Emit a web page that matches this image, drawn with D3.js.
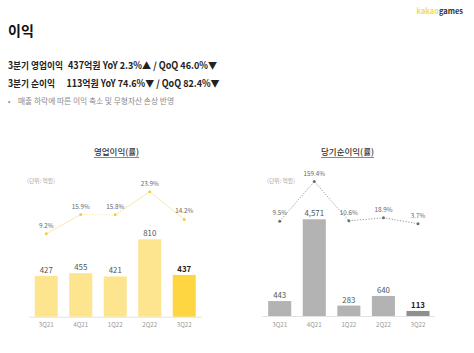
<!DOCTYPE html>
<html><head><meta charset="utf-8">
<script src="https://cdn.jsdelivr.net/npm/d3@7"></script>
<style>
html,body{margin:0;padding:0;background:#fff;}
svg text{font-family:"Noto Sans CJK KR","Noto Sans",sans-serif;}
</style></head>
<body>
<svg id="c" width="474" height="353"></svg>
<script>
const categories = ["3Q21","4Q21","1Q22","2Q22","3Q22"];
const opProfit = [427,455,421,810,437];
const opMargin = [9.2,15.9,15.8,23.9,14.2];
const netProfit = [443,4571,283,640,113];
const netMargin = [9.5,159.4,10.6,18.9,3.7];
const netProfitLabels = ["443","4,571","283","640","113"];

const svg = d3.select("#c");

// header
svg.append("text").attr("x",8).attr("y",36).attr("font-size",14).attr("font-weight",700).attr("fill","#111").text("이익");
function fitText(x,y,w,txt){
  return svg.append("text").attr("x",x).attr("y",y).attr("font-size",9.6).attr("font-weight",700).attr("fill","#222")
    .attr("textLength",w).attr("lengthAdjust","spacingAndGlyphs").text(txt);
}
fitText(8,69,55,"3분기 영업이익");
fitText(68,69,149,"437억원 YoY 2.3%▲ / QoQ 46.0%▼");
fitText(8,86.5,47,"3분기 순이익");
fitText(66.5,86.5,153,"113억원 YoY 74.6%▼ / QoQ 82.4%▼");
svg.append("text").attr("x",8).attr("y",104).attr("font-size",7).attr("fill","#888").text("•");
svg.append("text").attr("x",18).attr("y",104).attr("font-size",7.6).attr("fill","#888")
  .attr("textLength",156).attr("lengthAdjust","spacingAndGlyphs").text("매출 하락에 따른 이익 축소 및 무형자산 손상 반영");
const logo = svg.append("text").attr("x",463).attr("y",14).attr("text-anchor","end").attr("font-size",7.5).attr("font-weight",700);
logo.append("tspan").attr("fill","#f3dd55").text("kakao");
logo.append("tspan").attr("fill","#333").text("games");

function chart(cfg){
  const g = svg.append("g");
  const x = d3.scaleBand().domain(categories).range(cfg.xr).paddingInner(0.333).paddingOuter(0.1667);
  const t = g.append("text").attr("x",cfg.tx).attr("y",155).attr("text-anchor","middle")
    .attr("font-size",8.5).attr("font-weight",500).attr("fill","#333").text(cfg.title);
  const bb = t.node().getBBox();
  g.append("line").attr("x1",bb.x).attr("x2",bb.x+bb.width).attr("y1",157.5).attr("y2",157.5).attr("stroke","#555").attr("stroke-width",0.7);
  g.append("text").attr("x",cfg.ux).attr("y",183).attr("font-size",5.8).attr("fill","#aaa").text("(단위: 억원)");
  g.append("line").attr("x1",cfg.xr[0]).attr("x2",cfg.xr[1]).attr("y1",cfg.base+0.5).attr("y2",cfg.base+0.5).attr("stroke","#e2e2e2").attr("stroke-width",1);
  g.selectAll("rect.b").data(cfg.vals).join("rect")
    .attr("x",(d,i)=>x(categories[i])).attr("width",x.bandwidth())
    .attr("y",d=>cfg.y(d)).attr("height",d=>cfg.base-cfg.y(d))
    .attr("fill",(d,i)=>i===categories.length-1?cfg.last:cfg.bar);
  g.selectAll("text.v").data(cfg.vals).join("text")
    .attr("x",(d,i)=>x(categories[i])+x.bandwidth()/2).attr("y",d=>cfg.y(d)-3)
    .attr("text-anchor","middle").attr("font-size",7.8)
    .attr("font-weight",(d,i)=>i===categories.length-1?700:400)
    .attr("fill",(d,i)=>i===categories.length-1?"#222":"#555")
    .text((d,i)=>cfg.labels[i]);
  g.selectAll("text.c").data(categories).join("text")
    .attr("x",d=>x(d)+x.bandwidth()/2).attr("y",326.5).attr("text-anchor","middle")
    .attr("font-size",6.2).attr("fill","#999").text(d=>d);
  const pts = cfg.rates.map((r,i)=>[x(categories[i])+x.bandwidth()/2, cfg.ry(r)]);
  for(let i=0;i<pts.length-1;i++){
    const dashed = cfg.allDotted || i===1;
    g.append("line").attr("x1",pts[i][0]).attr("y1",pts[i][1]).attr("x2",pts[i+1][0]).attr("y2",pts[i+1][1])
      .attr("stroke",cfg.lineColor).attr("stroke-width",dashed?1:0.9)
      .attr("stroke-dasharray",dashed?"1.2,1.6":null);
  }
  g.selectAll("circle.p").data(pts).join("circle").attr("cx",d=>d[0]).attr("cy",d=>d[1]).attr("r",1.5).attr("fill",cfg.dot);
  g.selectAll("text.r").data(cfg.rates).join("text")
    .attr("x",(d,i)=>pts[i][0]).attr("y",(d,i)=>pts[i][1]-6)
    .attr("text-anchor","middle").attr("font-size",6.3).attr("fill","#666")
    .text(d=>d.toFixed(1)+"%");
}

chart({
  title:"영업이익(률)", tx:116.5, ux:27, xr:[29,201.5], base:316.7,
  vals:opProfit, labels:opProfit.map(String), rates:opMargin,
  y:d3.scaleLinear().domain([0,810]).range([316.7,239.3]),
  ry:d3.scaleLinear().domain([0,23.9]).range([260,191.7]),
  bar:"#fde48f", last:"#fed641", lineColor:"#f6e7a6", dot:"#f2cd45", allDotted:false
});
chart({
  title:"당기순이익(률)", tx:347.5, ux:267, xr:[262.4,435.3], base:316,
  vals:netProfit, labels:netProfitLabels, rates:netMargin,
  y:d3.scalePow().exponent(0.8).domain([0,4571]).range([316,219.3]),
  ry:d3.scalePow().exponent(0.8).domain([0,159.4]).range([225.9,181.5]),
  bar:"#b3b3b3", last:"#8f8f8f", lineColor:"#9a9a9a", dot:"#6e6e6e", allDotted:true
});
</script>
</body></html>
